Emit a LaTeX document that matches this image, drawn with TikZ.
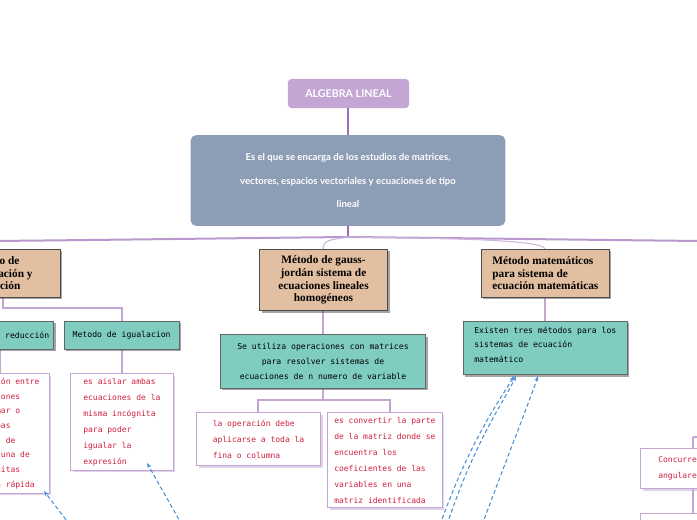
\documentclass[tikz,border=0pt]{standalone}
\usepackage{fontspec}
\setmainfont{Liberation Serif}
\newfontfamily\monof{DejaVu Sans Mono}
\newfontfamily\sansf{Lato}
\usetikzlibrary{arrows.meta,shadows}
\definecolor{purp}{HTML}{C3A6D4}
\definecolor{lin}{HTML}{9B6CB8}
\definecolor{slate}{HTML}{8C9DB5}
\definecolor{tan}{HTML}{E2BFA0}
\definecolor{teal}{HTML}{7ECDC0}
\definecolor{redt}{HTML}{D0203F}
\definecolor{blu}{HTML}{4A90D9}
\tikzset{
 tanbox/.style={fill=tan,draw=black!70,line width=0.5pt,inner sep=4pt,font=\bfseries\fontsize{8.5}{9.5}\selectfont,drop shadow={shadow xshift=1.5pt,shadow yshift=-1.5pt,fill=black!70}},
 tealbox/.style={fill=teal,draw=black!60,line width=0.5pt,font=\monof\fontsize{6.1}{11}\selectfont,drop shadow={shadow xshift=1.5pt,shadow yshift=-1.5pt,fill=black!70}},
 whitebox/.style={fill=white,draw=purp,line width=0.8pt,font=\monof\fontsize{6}{12}\selectfont,text=redt,drop shadow={shadow xshift=1.5pt,shadow yshift=-1.5pt,fill=purp}},
 conn/.style={draw=purp,line width=0.8pt},
 arr/.style={draw=blu,densely dashed,line width=0.8pt,-{Stealth[length=4pt]}},
}
\begin{document}
\begin{tikzpicture}[x=0.75pt,y=-0.75pt]
\useasboundingbox (0,0) rectangle (697,520);
\fill[white] (0,0) rectangle (697,520);
\draw[lin,line width=1pt] (348,226) -- (348,237);
\draw[lin!70,line width=1.5pt] (348,237) .. controls (250,238) and (100,240) .. (-5,241);
\draw[lin!70,line width=1.5pt] (348,237) .. controls (450,238) and (600,240) .. (702,241);
\draw[lin!50,line width=0.8pt] (348,237) .. controls (330,240) and (323,240) .. (323,249);
\draw[lin!50,line width=0.8pt] (348,237) .. controls (400,238) and (545,238) .. (545,249);
\draw[lin,line width=1pt] (348,108) -- (348,135);
\draw[conn] (3,297) -- (3,308) -- (122,308) -- (122,321);
\draw[conn] (0,349) -- (0,373);
\draw[conn] (122,349) -- (122,373);
\draw[conn] (323,311) -- (323,335);
\draw[conn] (323,388) -- (323,400) -- (258,400) -- (258,412);
\draw[conn] (323,400) -- (390,400) -- (390,412);
\draw[conn] (545,298) -- (545,321);
\draw[conn] (693,437) -- (693,448);
\draw[conn] (693,489) -- (693,513);
\draw[conn] (693,437) -- (700,437);
\node[fill=purp,rounded corners=3pt,minimum width=91pt,minimum height=22pt,text=white,font=\sansf\bfseries\fontsize{8}{9}\selectfont] (t) at (348.5,93.5) {ALGEBRA LINEAL};
\node[fill=slate,rounded corners=4pt,minimum width=236pt,minimum height=68pt,text=white,align=center,font=\sansf\bfseries\fontsize{7.2}{17.5}\selectfont] (m) at (348,180.5) {Es el que se encarga de los estudios de matrices,\\vectores, espacios vectoriales y ecuaciones de tipo\\lineal};
\node[tanbox,minimum width=90pt,minimum height=36pt,anchor=north west,align=left] (l1) at (-60,249) {Método de\\eliminación y\\sustitución};
\node[tanbox,minimum width=96pt,minimum height=46pt,align=center] (c1) at (323.5,280) {Método de gauss-\\jordán sistema de\\ecuaciones lineales\\homogéneos};
\node[tanbox,minimum width=96pt,minimum height=36pt,align=left,anchor=north west] (r1) at (481,249) {Método matemáticos\\para sistema de\\ecuación matemáticas};
\node[tealbox,minimum width=60pt,minimum height=21pt,anchor=north east] (l2) at (54,321) {Metodo de reducción};
\node[tealbox,minimum width=86pt,minimum height=21pt,anchor=north west] (l3) at (64,321) {Metodo de igualacion};
\node[tealbox,minimum width=154pt,minimum height=40pt,align=center] (c2) at (323,361.5) {Se utiliza operaciones con matrices\\para resolver sistemas de\\ecuaciones de n numero de variable};
\node[tealbox,minimum width=123pt,minimum height=40pt,anchor=north west,align=left] (r2) at (463,321) {Existen tres métodos para los\\sistemas de ecuación\\matemático\\[-6pt]\mbox{}};
\node[whitebox,minimum width=80pt,minimum height=86pt,anchor=north east,align=left,font=\monof\fontsize{6}{11}\selectfont] (l4) at (50,373) {es operación entre\\dos ecuaciones\\que es sumar o\\restar ambas\\ecuaciones de\\forma que una de\\las incógnitas\\se elimina rápida};
\node[whitebox,minimum width=77pt,minimum height=67pt,anchor=north west,align=left] (l5) at (70,373) {es aislar ambas\\ecuaciones de la\\misma incógnita\\para poder\\igualar la\\expresión};
\node[whitebox,minimum width=93pt,minimum height=40pt,anchor=north west,align=left] (c3) at (196,412) {la operación debe\\aplicarse a toda la\\fina o columna};
\node[whitebox,minimum width=86pt,minimum height=68pt,anchor=north west,align=left] (c4) at (327,412) {es convertir la parte\\de la matriz donde se\\encuentra los\\coeficientes de las\\variables en una\\matriz identificada};
\node[whitebox,minimum width=70pt,minimum height=30pt,anchor=north west,align=left] (r3) at (640,448) {Concurrentes\\angulares};
\node[whitebox,minimum width=70pt,minimum height=30pt,anchor=north west] (r4) at (640,513) {};
\coordinate (a1) at (70,525); \coordinate (a2) at (182,525);
\coordinate (a3) at (440,525); \coordinate (a4) at (447,525); \coordinate (a5) at (482,525);
\draw[arr] (a1) -- (44,491);
\draw[arr] (a2) -- (147,463);
\draw[arr] (a3) .. controls (470,440) and (500,400) .. (514,376);
\draw[arr] (a4) .. controls (475,440) and (505,400) .. (516,376);
\draw[arr] (a5) .. controls (510,450) and (530,400) .. (538,376);
\end{tikzpicture}
\end{document}
